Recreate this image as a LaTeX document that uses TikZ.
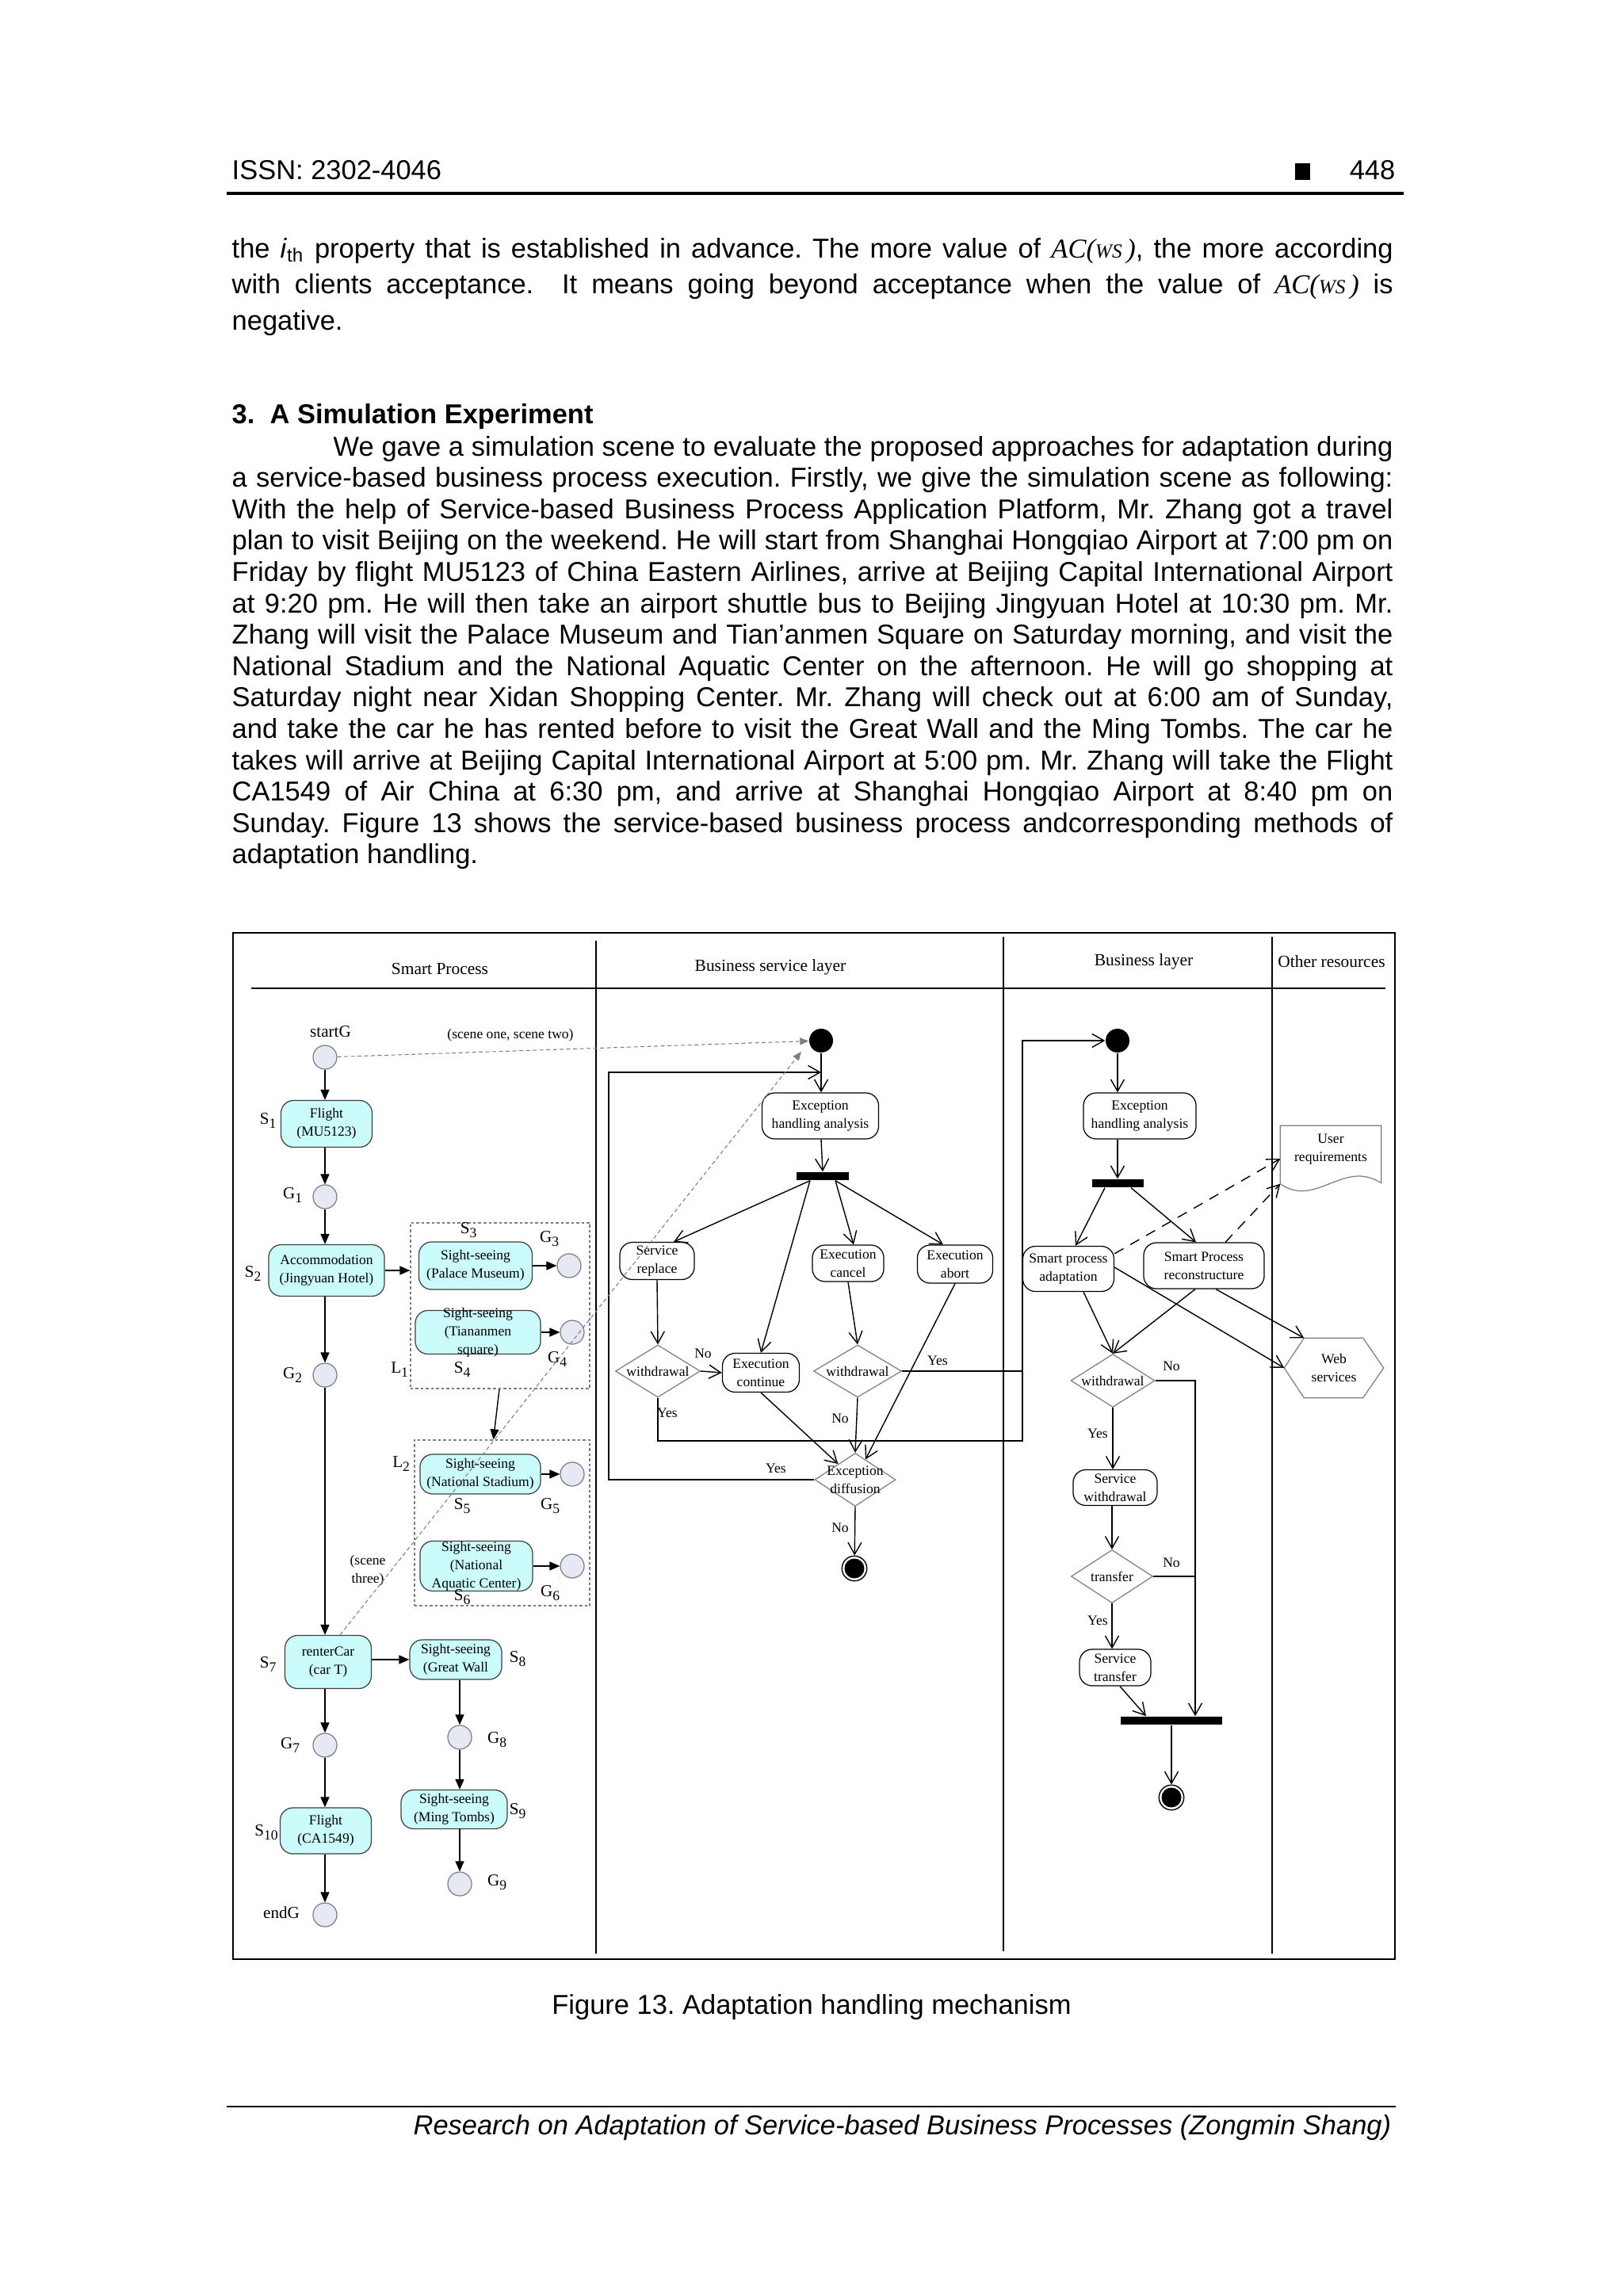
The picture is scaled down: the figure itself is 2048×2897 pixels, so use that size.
\documentclass[tikz,border=0pt]{standalone}
\usepackage{fontspec}
\setmainfont{Liberation Sans}
\newfontfamily\tnr{Liberation Serif}
\usetikzlibrary{arrows.meta,calc,shapes.geometric}
\definecolor{cyanbox}{RGB}{204,251,252}
\definecolor{gcirc}{RGB}{230,233,243}
\definecolor{gline}{RGB}{125,125,135}
\newcommand{\acws}{{\tnr\itshape AC(}{\tnr\itshape\fontsize{7.2}{8}\selectfont WS}{\tnr\itshape\,)}}
\begin{document}
\frenchspacing
\begin{tikzpicture}[x=0.01cm,y=-0.01cm,
  btext/.style={anchor=base west,inner sep=0pt,font=\fontsize{9.8}{11}\selectfont},
  df/.style={font=\tnr\fontsize{5}{6.5}\selectfont},
  lab/.style={font=\tnr\fontsize{6}{7}\selectfont,inner sep=0pt},
  yn/.style={font=\tnr\fontsize{5}{6}\selectfont,inner sep=0pt},
  hdr/.style={font=\tnr\fontsize{6.1}{7}\selectfont,inner sep=0pt},
  snode/.style={draw=black!75,fill=cyanbox,rounded corners=1.6mm,inner sep=0pt,align=center,df,line width=0.35pt},
  act/.style={draw=black,fill=white,rounded corners=1.6mm,inner sep=0pt,align=center,df,line width=0.35pt},
  gnode/.style={circle,draw=gline,fill=gcirc,minimum size=0.3cm,inner sep=0pt,line width=0.35pt},
  dec/.style={diamond,draw=gline,inner sep=0pt,line width=0.35pt},
  grp/.style={draw=gline,dash pattern=on 0.35mm off 0.3mm,line width=0.35pt,inner sep=0pt},
  sarr/.style={-{Triangle[length=1.3mm,width=1.1mm]},line width=0.4pt},
  oarr/.style={-{Straight Barb[length=1.5mm,width=1.7mm]},line width=0.4pt},
  dline/.style={gline,dash pattern=on 0.5mm off 0.35mm,line width=0.3pt,-{Triangle[length=1.1mm,width=0.9mm]}},
  ldash/.style={dash pattern=on 1.3mm off 1mm,oarr},
  blackdot/.style={circle,fill=black,minimum size=0.3cm,inner sep=0pt},
  forkbar/.style={fill=black,inner sep=0pt,minimum height=0.1cm},
  txtover/.style={df,align=center,inner sep=0pt},
]
\useasboundingbox (0,0) rectangle (2048,2897);
\fill[white] (0,0) rectangle (2048,2897);

% ---------------- page text ----------------
\node[btext] (hd1) at (292,227) {ISSN: 2302-4046};
\node[btext,anchor=base east] (hd2) at (1761,227) {448};
\fill (1634,206) rectangle (1653,227);
\draw[line width=0.9pt] (286,244) -- (1771,244);

\node[btext] (p1a) at (292,325) {\makebox[14.64cm][s]{the \textit{i}\textsubscript{th} property that is established in advance. The more value of \acws, the more according}};
\node[btext] (p1b) at (292,370) {\makebox[14.64cm][s]{with clients acceptance. \ It means going beyond acceptance when the value of \acws{} is}};
\node[btext] (p1c) at (292,416) {negative.};

\node[btext,font=\bfseries\fontsize{9.8}{11}\selectfont] (sec) at (292,534) {3.\ \ A Simulation Experiment};

\node[btext] (q1) at (420,575) {\makebox[13.36cm][s]{We gave a simulation scene to evaluate the proposed approaches for adaptation during}};
\node[btext] (q2) at (292,614.6) {\makebox[14.64cm][s]{a service-based business process execution. Firstly, we give the simulation scene as following:}};
\node[btext] (q3) at (292,654.2) {\makebox[14.64cm][s]{With the help of Service-based Business Process Application Platform, Mr. Zhang got a travel}};
\node[btext] (q4) at (292,693.8) {\makebox[14.64cm][s]{plan to visit Beijing on the weekend. He will start from Shanghai Hongqiao Airport at 7:00 pm on}};
\node[btext] (q5) at (292,733.4) {\makebox[14.64cm][s]{Friday by flight MU5123 of China Eastern Airlines, arrive at Beijing Capital International Airport}};
\node[btext] (q6) at (292,773) {\makebox[14.64cm][s]{at 9:20 pm. He will then take an airport shuttle bus to Beijing Jingyuan Hotel at 10:30 pm. Mr.}};
\node[btext] (q7) at (292,812.6) {\makebox[14.64cm][s]{Zhang will visit the Palace Museum and Tian'anmen Square on Saturday morning, and visit the}};
\node[btext] (q8) at (292,852.2) {\makebox[14.64cm][s]{National Stadium and the National Aquatic Center on the afternoon. He will go shopping at}};
\node[btext] (q9) at (292,891.8) {\makebox[14.64cm][s]{Saturday night near Xidan Shopping Center. Mr. Zhang will check out at 6:00 am of Sunday,}};
\node[btext] (q10) at (292,931.4) {\makebox[14.64cm][s]{and take the car he has rented before to visit the Great Wall and the Ming Tombs. The car he}};
\node[btext] (q11) at (292,971) {\makebox[14.64cm][s]{takes will arrive at Beijing Capital International Airport at 5:00 pm. Mr. Zhang will take the Flight}};
\node[btext] (q12) at (292,1010.6) {\makebox[14.64cm][s]{CA1549 of Air China at 6:30 pm, and arrive at Shanghai Hongqiao Airport at 8:40 pm on}};
\node[btext] (q13) at (292,1050.2) {\makebox[14.64cm][s]{Sunday. Figure 13 shows the service-based business process andcorresponding methods of}};
\node[btext] (q14) at (292,1089.8) {adaptation handling.};

\node[btext,anchor=base] (cap) at (1024,2541) {Figure 13. Adaptation handling mechanism};
\draw[line width=0.6pt] (286,2658) -- (1761,2658);
\node[btext,anchor=base east,font=\itshape\fontsize{9.8}{11}\selectfont] (foot) at (1756,2693) {Research on Adaptation of Service-based Business Processes (Zongmin Shang)};

% ---------------- frame and lanes ----------------
\draw[line width=0.6pt] (294,1177) rectangle (1760,2472);
\draw[line width=0.4pt] (752,1187) -- (752,2465);
\draw[line width=0.4pt] (1266,1182) -- (1266,2462);
\draw[line width=0.4pt] (1605,1182) -- (1605,2465);
\draw[line width=0.4pt] (317,1247) -- (1748,1247);
\node[hdr] (h1) at (555,1222) {Smart Process};
\node[hdr] (h2) at (972,1220) {Business service layer};
\node[hdr] (h3) at (1443,1213) {Business layer};
\node[hdr] (h4) at (1680,1213) {Other resources};

% ---------------- Smart process lane ----------------
\node[gnode] (startG) at (410,1334) {};
\node[snode,minimum width=1.15cm,minimum height=0.59cm] (s1) at (412,1418) {Flight\\(MU5123)};
\node[gnode] (g1) at (410,1510) {};
\node[snode,minimum width=1.46cm,minimum height=0.65cm] (s2) at (412,1603) {Accommodation\\(Jingyuan Hotel)};
\draw[sarr] (startG) -- (startG |- s1.north);
\draw[sarr] (startG |- s1.south) -- (g1);
\draw[sarr] (g1) -- (g1 |- s2.north);

\node[grp,minimum width=2.26cm,minimum height=2.09cm] (l1box) at (631,1647.5) {};
\node[snode,minimum width=1.43cm,minimum height=0.6cm] (s3) at (600,1597) {Sight-seeing\\(Palace Museum)};
\node[gnode] (g3) at (718,1597) {};
\draw[sarr] (s3) -- (g3);
\node[snode,minimum width=1.58cm,minimum height=0.55cm] (s4) at (603,1681) {};
\node[txtover] (s4t) at (s4) {Sight-seeing\\(Tiananmen\\square)};
\node[gnode] (g4) at (722,1681) {};
\draw[sarr] (s4) -- (g4);
\draw[sarr] (s2.east) -- (s2.east -| l1box.west);

\node[gnode] (g2) at (410,1735) {};
\draw[sarr] (g2 |- s2.south) -- (g2);

\node[grp,minimum width=2.21cm,minimum height=2.09cm] (l2box) at (633.5,1921.5) {};
\draw[sarr] ($(l1box.south)+(-1,0)$) -- ($(l2box.north)+(-11,0)$);
\node[snode,minimum width=1.52cm,minimum height=0.5cm] (s5) at (606,1860) {Sight-seeing\\(National Stadium)};
\node[gnode] (g5) at (722,1860) {};
\draw[sarr] (s5) -- (g5);
\node[snode,minimum width=1.42cm,minimum height=0.63cm] (s6) at (601,1976) {};
\node[txtover] (s6t) at (s6) {Sight-seeing\\(National\\Aquatic Center)};
\node[gnode] (g6) at (722,1976) {};
\draw[sarr] (s6) -- (g6);

\node[snode,minimum width=1.09cm,minimum height=0.67cm] (s7) at (414,2097) {renterCar\\(car T)};
\draw[sarr] (g2) -- (g2 |- s7.north);
\node[snode,minimum width=1.16cm,minimum height=0.5cm] (s8) at (575,2094) {Sight-seeing\\(Great Wall};
\draw[sarr] (s7.east |- s8) -- (s8.west);
\node[gnode] (g8) at (580,2192) {};
\draw[sarr] (g8 |- s8.south) -- (g8);
\node[snode,minimum width=1.34cm,minimum height=0.49cm] (s9) at (573,2283) {Sight-seeing\\(Ming Tombs)};
\draw[sarr] (g8) -- (g8 |- s9.north);
\node[gnode] (g9) at (580,2377) {};
\draw[sarr] (g8 |- s9.south) -- (g9);
\node[gnode] (g7) at (410,2202) {};
\draw[sarr] (g7 |- s7.south) -- (g7);
\node[snode,minimum width=1.15cm,minimum height=0.58cm] (s10) at (411,2310) {Flight\\(CA1549)};
\draw[sarr] (g7) -- (g7 |- s10.north);
\node[gnode] (endG) at (410,2416) {};
\draw[sarr] (endG |- s10.south) -- (endG);

% labels
\node[lab] (lstart) at (417,1302) {startG};
\node[df,inner sep=0pt] (lscene) at (644,1306) {(scene one, scene two)};
\node[lab] (ls1) at (339,1414) {S\textsubscript{1}};
\node[lab] (lg1) at (370,1508) {G\textsubscript{1}};
\node[lab] (ls2) at (320,1607) {S\textsubscript{2}};
\node[lab] (ls3) at (592,1552) {S\textsubscript{3}};
\node[lab] (lg3) at (694,1563) {G\textsubscript{3}};
\node[lab] (ll1) at (505,1728) {L\textsubscript{1}};
\node[lab] (ls4) at (584,1728) {S\textsubscript{4}};
\node[lab] (lg4) at (704,1715) {G\textsubscript{4}};
\node[lab] (lg2) at (370,1735) {G\textsubscript{2}};
\node[lab] (ll2) at (507,1847) {L\textsubscript{2}};
\node[lab] (ls5) at (584,1900) {S\textsubscript{5}};
\node[lab] (lg5) at (695,1900) {G\textsubscript{5}};
\node[lab] (ls6) at (584,2015) {S\textsubscript{6}};
\node[lab] (lg6) at (695,2010) {G\textsubscript{6}};
\node[txtover] (lsc3) at (464,1982) {(scene\\three)};
\node[lab] (ls7) at (339,2100) {S\textsubscript{7}};
\node[lab] (ls8) at (654,2093) {S\textsubscript{8}};
\node[lab] (lg8) at (628,2195) {G\textsubscript{8}};
\node[lab] (ls9) at (654,2285) {S\textsubscript{9}};
\node[lab] (lg9) at (628,2375) {G\textsubscript{9}};
\node[lab] (lg7) at (367,2202) {G\textsubscript{7}};
\node[lab] (ls10) at (337,2312) {S\textsubscript{10}};
\node[lab] (lend) at (355,2413) {endG};

% ---------------- Business service layer ----------------
\node[blackdot] (dot1) at (1036,1313) {};
\node[act,minimum width=1.47cm,minimum height=0.58cm] (eha1) at (1035,1408) {Exception\\handling analysis};
\draw[oarr] (dot1) -- (dot1 |- eha1.north);
\node[forkbar,minimum width=0.66cm] (bar1) at (1038,1484) {};
\draw[oarr] (dot1 |- eha1.south) -- (bar1.north);
\node[act,minimum width=0.94cm,minimum height=0.47cm] (sr) at (829,1591) {Service\\replace};
\node[act,minimum width=0.9cm,minimum height=0.46cm] (ec) at (1070,1594) {Execution\\cancel};
\node[act,minimum width=0.95cm,minimum height=0.48cm] (ea) at (1205,1595) {Execution\\abort};
\node[dec,minimum width=1.07cm,minimum height=0.66cm] (wd1) at (830,1730) {};
\node[txtover] (wd1t) at (wd1) {withdrawal};
\node[act,minimum width=0.97cm,minimum height=0.49cm] (econt) at (960,1732) {Execution\\continue};
\node[dec,minimum width=1.11cm,minimum height=0.66cm] (wd2) at (1082,1730) {};
\node[txtover] (wd2t) at (wd2) {withdrawal};
\node[dec,minimum width=1.02cm,minimum height=0.67cm] (ed) at (1079,1867) {};
\node[txtover] (edt) at (ed) {Exception\\diffusion};
\node[circle,draw,minimum size=0.314cm,inner sep=0pt,line width=0.4pt] (fin1) at (1078,1979) {};
\fill (fin1.center) circle (0.125cm);

\draw[oarr] ($(bar1.south)+(-16,0)$) -- ($(sr.north)+(21,0)$);
\draw[oarr] ($(bar1.south)+(-16,0)$) -- (econt.north);
\draw[oarr] ($(bar1.south)+(16,0)$) -- ($(ec.north)+(7,0)$);
\draw[oarr] ($(bar1.south)+(16,0)$) -- ($(ea.north)+(-15,0)$);
\draw[oarr] (sr.south) -- (wd1.north);
\draw[oarr] (wd1.east) -- (econt.west);
\draw[oarr] (ec.south) -- (wd2.north);
\draw[oarr] (wd2.south) -- (ed.north);
\draw[oarr] (econt.south) -- (ed);
\draw[oarr] (ea.south) -- (ed);
\draw[oarr] (ed.south) -- (fin1);
\coordinate (lpA) at (768,1867);
\coordinate (lpB) at (768,1353);
\draw[oarr] (ed.west) -- (lpA) -- (lpB) -- (lpB -| dot1);
\coordinate (cR) at (1290,1818);

\node[yn] (y1) at (887,1708) {No};
\node[yn] (y2) at (842,1783) {Yes};
\node[yn] (y3) at (1183,1717) {Yes};
\node[yn] (y4) at (1060,1790) {No};
\node[yn] (y5) at (979,1853) {Yes};
\node[yn] (y6) at (1060,1928) {No};

% dashed scene lines
\draw[dline] (startG) -- (dot1);
\coordinate (sc3end) at (1011,1327);
\draw[dline] ($(s7.north east)+(-40,0)$) -- (sc3end);

% ---------------- Business layer ----------------
\node[blackdot] (dot2) at (1410,1313) {};
\draw[oarr] (wd1.south) |- (cR) -- (cR |- dot2) -- (dot2);
\draw[line width=0.4pt] (wd2.east) -- (wd2.east -| cR);
\node[act,minimum width=1.42cm,minimum height=0.58cm] (eha2) at (1438,1408) {Exception\\handling analysis};
\draw[oarr] (dot2) -- (dot2 |- eha2.north);
\node[forkbar,minimum width=0.65cm] (bar2) at (1410,1493) {};
\draw[oarr] (dot2 |- eha2.south) -- (bar2.north);
\node[act,minimum width=1.15cm,minimum height=0.57cm] (spa) at (1348,1601) {Smart process\\adaptation};
\node[act,minimum width=1.52cm,minimum height=0.58cm] (spr) at (1519,1597) {Smart Process\\reconstructure};
\draw[oarr] ($(bar2.south)+(-16,0)$) -- ($(spa.north)+(9,0)$);
\draw[oarr] ($(bar2.south)+(17,0)$) -- ($(spr.north)+(-10,0)$);
\node[dec,minimum width=1.06cm,minimum height=0.67cm] (wd3) at (1404,1742) {};
\node[txtover] (wd3t) at (wd3) {withdrawal};
\draw[oarr] ($(spa.south)+(19,0)$) -- (wd3.north);
\draw[oarr] ($(spr.south)+(-11,0)$) -- (wd3.north);
\node[act,minimum width=1.06cm,minimum height=0.45cm] (sw) at (1407,1877) {Service\\withdrawal};
\draw[oarr] (wd3.south) -- (wd3.south |- sw.north);
\node[dec,minimum width=1.03cm,minimum height=0.67cm] (tr) at (1403,1989) {};
\node[txtover] (trt) at (tr) {transfer};
\draw[oarr] (tr.north |- sw.south) -- (tr.north);
\node[act,minimum width=0.9cm,minimum height=0.46cm] (st) at (1407,2104) {Service\\transfer};
\draw[oarr] (tr.south) -- (tr.south |- st.north);
\node[forkbar,minimum width=1.27cm] (bar3) at (1478,2171) {};
\draw[oarr] ($(st.south)+(6,0)$) -- ($(bar3.north)+(-32,0)$);
\coordinate (nl) at (1508,1742);
\draw[oarr] (wd3.east) -- (nl) -- (nl |- bar3.north);
\draw[line width=0.4pt] (tr.east) -- (tr.east -| nl);
\node[circle,draw,minimum size=0.314cm,inner sep=0pt,line width=0.4pt] (fin2) at (1478,2268) {};
\fill (fin2.center) circle (0.125cm);
\draw[oarr] (bar3.south) -- (fin2);

\node[yn] (y7) at (1478,1724) {No};
\node[yn] (y8) at (1385,1809) {Yes};
\node[yn] (y9) at (1478,1972) {No};
\node[yn] (y10) at (1385,2045) {Yes};

% ---------------- Other resources ----------------
\node[df,align=center,inner sep=0pt,minimum width=1.26cm,minimum height=0.58cm] (ur) at (1679,1450) {User\\requirements};
\draw[gline,line width=0.35pt] ($(ur.south west)+(0,14)$) -- (ur.north west) -- (ur.north east) -- ($(ur.south east)+(0,13)$)
  .. controls (1695,1462) and (1660,1525) .. ($(ur.south west)+(0,14)$);
\node[df,align=center,inner sep=0pt,minimum width=1.24cm,minimum height=0.74cm] (ws) at (1683,1726) {Web\\services};
\draw[gline,line width=0.35pt] (ws.west) -- ($(ws.north west)+(25,0)$) -- ($(ws.north east)+(-26,0)$) -- (ws.east)
  -- ($(ws.south east)+(-26,0)$) -- ($(ws.south west)+(25,0)$) -- cycle;

\draw[ldash] ($(spa.north east)+(0,10)$) -- ($(ur.west)+(0,12)$);
\draw[ldash] ($(spr.north)+(27,0)$) -- ($(ur.south west)+(0,14)$);
\draw[oarr] ($(spa.east)+(0,-2)$) -- (ws.west);
\draw[oarr] ($(spr.south)+(15,0)$) -- ($(ws.north west)+(25,0)$);

\end{tikzpicture}
\end{document}
